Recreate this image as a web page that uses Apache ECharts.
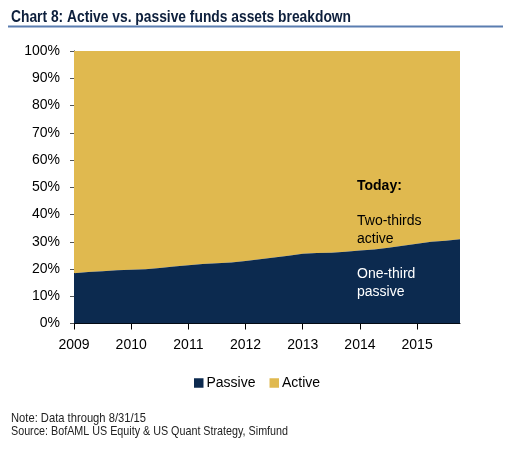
<!DOCTYPE html>
<html>
<head>
<meta charset="utf-8">
<script src="https://cdn.jsdelivr.net/npm/echarts@6/dist/echarts.min.js"></script>
<style>
html,body{margin:0;padding:0;background:#fff;}
#c{width:510px;height:451px;}
</style>
</head>
<body>
<div id="c"></div>
<script>
// Time points (fractional years, quarterly)
const times = [2009.00,2009.25,2009.50,2009.75,2010.00,2010.25,2010.50,2010.75,
  2011.00,2011.25,2011.50,2011.75,2012.00,2012.25,2012.50,2012.75,
  2013.00,2013.25,2013.50,2013.75,2014.00,2014.25,2014.50,2014.75,
  2015.00,2015.25,2015.50,2015.75];
// Passive share of assets (%)
const passive = [18.4,18.9,19.2,19.5,19.7,19.9,20.4,20.9,
  21.4,21.8,22.1,22.4,22.9,23.6,24.2,24.9,
  25.6,25.9,26.0,26.3,26.8,27.2,27.8,28.5,
  29.3,30.0,30.4,30.9];
// Active share of assets (%)
const active = [81.6,81.1,80.8,80.5,80.3,80.1,79.6,79.1,
  78.6,78.2,77.9,77.6,77.1,76.4,75.8,75.1,
  74.4,74.1,74.0,73.7,73.2,72.8,72.2,71.5,
  70.7,70.0,69.6,69.1];
const yearTicks = [2009,2010,2011,2012,2013,2014,2015];
const seriesNames = ['Passive','Active'];
const colors = ['#0c2a4f','#e0b94f'];

const font = '"Liberation Sans", Arial, sans-serif';
const titleText = 'Chart 8: Active vs. passive funds assets breakdown';
const note1 = 'Note: Data through 8/31/15';
const note2 = 'Source: BofAML US Equity & US Quant Strategy, Simfund';

// measure to emulate the condensed face of the original
const mctx = document.createElement('canvas').getContext('2d');
function fitScale(text, f, target){ mctx.font = f; return target / mctx.measureText(text).width; }
const titleFont = 'bold 17px ' + font;
const noteFont = '13px ' + font;
const sTitle = fitScale(titleText, titleFont, 340);
const sNote1 = fitScale(note1, noteFont, 135);
const sNote2 = fitScale(note2, noteFont, 277);

const chart = echarts.init(document.getElementById('c'), null, {renderer:'canvas'});

chart.setOption({
  animation:false,
  backgroundColor:'#ffffff',
  color:colors,
  grid:{left:74, right:50, top:51, bottom:127.5, containLabel:false},
  legend:{
    data:seriesNames, top:376, left:194, padding:0, itemWidth:9.5, itemHeight:9.5, itemGap:14,
    icon:'rect',
    textStyle:{fontFamily:font, fontSize:14, color:'#000', padding:[0,0,0,-2]}
  },
  xAxis:{
    type:'value', min:2009, max:2015.75, interval:1,
    axisLine:{show:true, lineStyle:{color:'#000', width:1}},
    axisTick:{show:true, length:6, lineStyle:{color:'#000'}},
    splitLine:{show:false},
    axisLabel:{fontFamily:font, fontSize:14, color:'#000', margin:15,
      showMaxLabel:false,
      formatter:function(v){ return yearTicks.indexOf(Math.round(v))>=0 && Math.abs(v-Math.round(v))<1e-6 ? String(Math.round(v)) : ''; }}
  },
  yAxis:{
    type:'value', min:0, max:100, interval:10,
    axisLine:{show:true, lineStyle:{color:'#000', width:1}},
    axisTick:{show:true, length:4, lineStyle:{color:'#555'}},
    splitLine:{show:false},
    axisLabel:{fontFamily:font, fontSize:14, color:'#000', margin:14, formatter:'{value}%'}
  },
  series:[
    {name:seriesNames[0], type:'line', stack:'total', symbol:'none', smooth:false,
     lineStyle:{width:0}, areaStyle:{color:colors[0], opacity:1},
     encode:{x:1, y:0},
     data:times.map((t,i)=>[passive[i], t]), z:2},
    {name:seriesNames[1], type:'line', stack:'total', symbol:'none', smooth:false,
     lineStyle:{width:0}, areaStyle:{color:colors[1], opacity:1},
     encode:{x:1, y:0},
     data:times.map((t,i)=>[active[i], t]), z:1}
  ],
  graphic:[
    {type:'text', x:11, y:17, scaleX:sTitle, z:10, style:{text:titleText, font:titleFont, fill:'#0d1f3c', verticalAlign:'middle'}},
    {type:'rect', shape:{x:8, y:25.5, width:495, height:2}, style:{fill:'#5a7db0'}},
    {type:'text', x:357, y:186, z:10, style:{text:'Today:', font:'bold 14px '+font, fill:'#000', verticalAlign:'middle'}},
    {type:'text', x:357, y:221, z:10, style:{text:'Two-thirds', font:'14px '+font, fill:'#000', verticalAlign:'middle'}},
    {type:'text', x:357, y:239, z:10, style:{text:'active', font:'14px '+font, fill:'#000', verticalAlign:'middle'}},
    {type:'text', x:357, y:274, z:10, style:{text:'One-third', font:'14px '+font, fill:'#fff', verticalAlign:'middle'}},
    {type:'text', x:357, y:292, z:10, style:{text:'passive', font:'14px '+font, fill:'#fff', verticalAlign:'middle'}},
    {type:'text', x:11, y:418, scaleX:sNote1, style:{text:note1, font:noteFont, fill:'#222', verticalAlign:'middle'}},
    {type:'text', x:11, y:431, scaleX:sNote2, style:{text:note2, font:noteFont, fill:'#222', verticalAlign:'middle'}}
  ]
});
</script>
</body>
</html>
